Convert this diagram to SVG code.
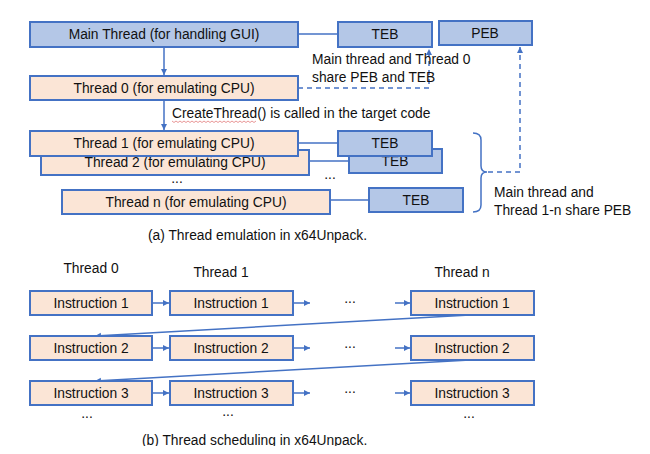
<svg xmlns="http://www.w3.org/2000/svg" width="650" height="454" viewBox="0 0 650 454">
<style>
text{font-family:"Liberation Sans",Arial,sans-serif;font-size:13.8px;fill:#111;}
.c{text-anchor:middle;}
.blue{fill:#B4C7E7;stroke:#4472C4;stroke-width:2;}
.org{fill:#FBE5D6;stroke:#4472C4;stroke-width:2;}
.ln{stroke:#4472C4;stroke-width:1.5;fill:none;}
.dash{stroke:#4472C4;stroke-width:1.5;fill:none;stroke-dasharray:5,4;}
</style>
<defs>
<marker id="ah" markerWidth="8" markerHeight="8" refX="6" refY="3" orient="auto" markerUnits="userSpaceOnUse">
<path d="M0,0 L6,3 L0,6 Z" fill="#4472C4"/>
</marker>
<clipPath id="cb"><rect x="0" y="0" width="650" height="446"/></clipPath>
</defs>
<rect width="650" height="454" fill="#fff"/>

<g id="connectors">
<line class="ln" x1="164" y1="47" x2="164" y2="75" marker-end="url(#ah)"/>
<line class="ln" x1="164" y1="100" x2="164" y2="130" marker-end="url(#ah)"/>
<line class="ln" x1="298" y1="34" x2="338" y2="34"/>
<line class="ln" x1="298" y1="143" x2="338" y2="143"/>
<line class="ln" x1="309" y1="161" x2="349" y2="161"/>
<line class="ln" x1="330" y1="200" x2="369" y2="200"/>
<polyline class="dash" points="298,88 429,88 429,49" marker-end="url(#ah)"/>
<polyline class="dash" points="488,172 520,172 520,47" marker-end="url(#ah)"/>
<path class="ln" d="M473,133 Q481,133 481,140 L481,166 Q481,172 487,172 Q481,172 481,178 L481,205 Q481,212 473,212"/>
<line class="ln" x1="152" y1="303" x2="169" y2="303" marker-end="url(#ah)"/>
<line class="ln" x1="293" y1="303" x2="310" y2="303" marker-end="url(#ah)"/>
<line class="ln" x1="395" y1="303" x2="410" y2="303" marker-end="url(#ah)"/>
<line class="ln" x1="152" y1="348" x2="169" y2="348" marker-end="url(#ah)"/>
<line class="ln" x1="293" y1="348" x2="310" y2="348" marker-end="url(#ah)"/>
<line class="ln" x1="395" y1="348" x2="410" y2="348" marker-end="url(#ah)"/>
<line class="ln" x1="152" y1="393" x2="169" y2="393" marker-end="url(#ah)"/>
<line class="ln" x1="293" y1="393" x2="310" y2="393" marker-end="url(#ah)"/>
<line class="ln" x1="395" y1="393" x2="410" y2="393" marker-end="url(#ah)"/>
<line class="ln" x1="470" y1="315" x2="95" y2="336" marker-end="url(#ah)"/>
<line class="ln" x1="470" y1="360" x2="95" y2="381" marker-end="url(#ah)"/>
</g>

<g id="main-thread"><rect class="blue" x="30" y="22" width="268" height="25"/><text class="c" x="164" y="39">Main Thread (for handling GUI)</text></g>
<g id="teb-main"><rect class="blue" x="338" y="22" width="94" height="25"/><text class="c" x="385" y="39">TEB</text></g>
<g id="peb"><rect class="blue" x="439" y="21" width="93" height="24"/><text class="c" x="485" y="38">PEB</text></g>
<g id="thread0"><rect class="org" x="30" y="76" width="268" height="24"/><text class="c" x="164" y="93">Thread 0 (for emulating CPU)</text></g>
<g id="label-share1"><text x="312" y="64">Main thread and Thread 0</text><text x="312" y="82">share PEB and TEB</text></g>
<g id="label-create"><text x="172" y="118">CreateThread() is called in the target code</text>
<polyline points="172,121 174,122.5 176,121 178,122.5 180,121 182,122.5 184,121 186,122.5 188,121 190,122.5 192,121 194,122.5 196,121 198,122.5 200,121 202,122.5 204,121 206,122.5 208,121 210,122.5 212,121 214,122.5 216,121 218,122.5 220,121 222,122.5 224,121 226,122.5 228,121 230,122.5 232,121 234,122.5 236,121 238,122.5 240,121 242,122.5 244,121 246,122.5 248,121 250,122.5 252,121 254,122.5 256,121" fill="none" stroke="#e06a6a" stroke-width="0.7"/></g>
<g id="thread2"><rect class="org" x="41" y="150" width="268" height="25"/><text class="c" x="175" y="167">Thread 2 (for emulating CPU)</text></g>
<g id="thread1"><rect class="org" x="30" y="131" width="268" height="25"/><text class="c" x="164" y="148">Thread 1 (for emulating CPU)</text></g>
<g id="teb2"><rect class="blue" x="349" y="149" width="93" height="24"/><text class="c" x="395" y="166">TEB</text></g>
<g id="teb1"><rect class="blue" x="338" y="131" width="94" height="25"/><text class="c" x="385" y="148">TEB</text></g>
<text class="c" x="177" y="183">...</text>
<text class="c" x="330" y="179">...</text>
<g id="threadn"><rect class="org" x="62" y="190" width="268" height="24"/><text class="c" x="196" y="207">Thread n (for emulating CPU)</text></g>
<g id="tebn"><rect class="blue" x="369" y="188" width="94" height="24"/><text class="c" x="416" y="205">TEB</text></g>
<g id="label-share2"><text x="494" y="197">Main thread and</text><text x="494" y="215">Thread 1-n share PEB</text></g>
<text x="148" y="240">(a) Thread emulation in x64Unpack.</text>

<text class="c" x="91" y="273">Thread 0</text>
<text class="c" x="221" y="277">Thread 1</text>
<text class="c" x="462" y="277">Thread n</text>

<g id="t0i1"><rect class="org" x="30" y="291" width="122" height="24"/><text class="c" x="91" y="308">Instruction 1</text></g>
<g id="t1i1"><rect class="org" x="170" y="291" width="123" height="24"/><text class="c" x="231" y="308">Instruction 1</text></g>
<g id="tni1"><rect class="org" x="411" y="291" width="123" height="24"/><text class="c" x="472" y="308">Instruction 1</text></g>
<g id="t0i2"><rect class="org" x="30" y="336" width="122" height="24"/><text class="c" x="91" y="353">Instruction 2</text></g>
<g id="t1i2"><rect class="org" x="170" y="336" width="123" height="24"/><text class="c" x="231" y="353">Instruction 2</text></g>
<g id="tni2"><rect class="org" x="411" y="336" width="123" height="24"/><text class="c" x="472" y="353">Instruction 2</text></g>
<g id="t0i3"><rect class="org" x="30" y="381" width="122" height="24"/><text class="c" x="91" y="398">Instruction 3</text></g>
<g id="t1i3"><rect class="org" x="170" y="381" width="123" height="24"/><text class="c" x="231" y="398">Instruction 3</text></g>
<g id="tni3"><rect class="org" x="411" y="381" width="123" height="24"/><text class="c" x="472" y="398">Instruction 3</text></g>
<text class="c" x="350" y="303">...</text>
<text class="c" x="350" y="348">...</text>
<text class="c" x="350" y="393">...</text>
<text class="c" x="87" y="418">...</text>
<text class="c" x="228" y="416">...</text>
<text class="c" x="469" y="418">...</text>
<text x="142" y="445" clip-path="url(#cb)">(b) Thread scheduling in x64Unpack.</text>
</svg>
